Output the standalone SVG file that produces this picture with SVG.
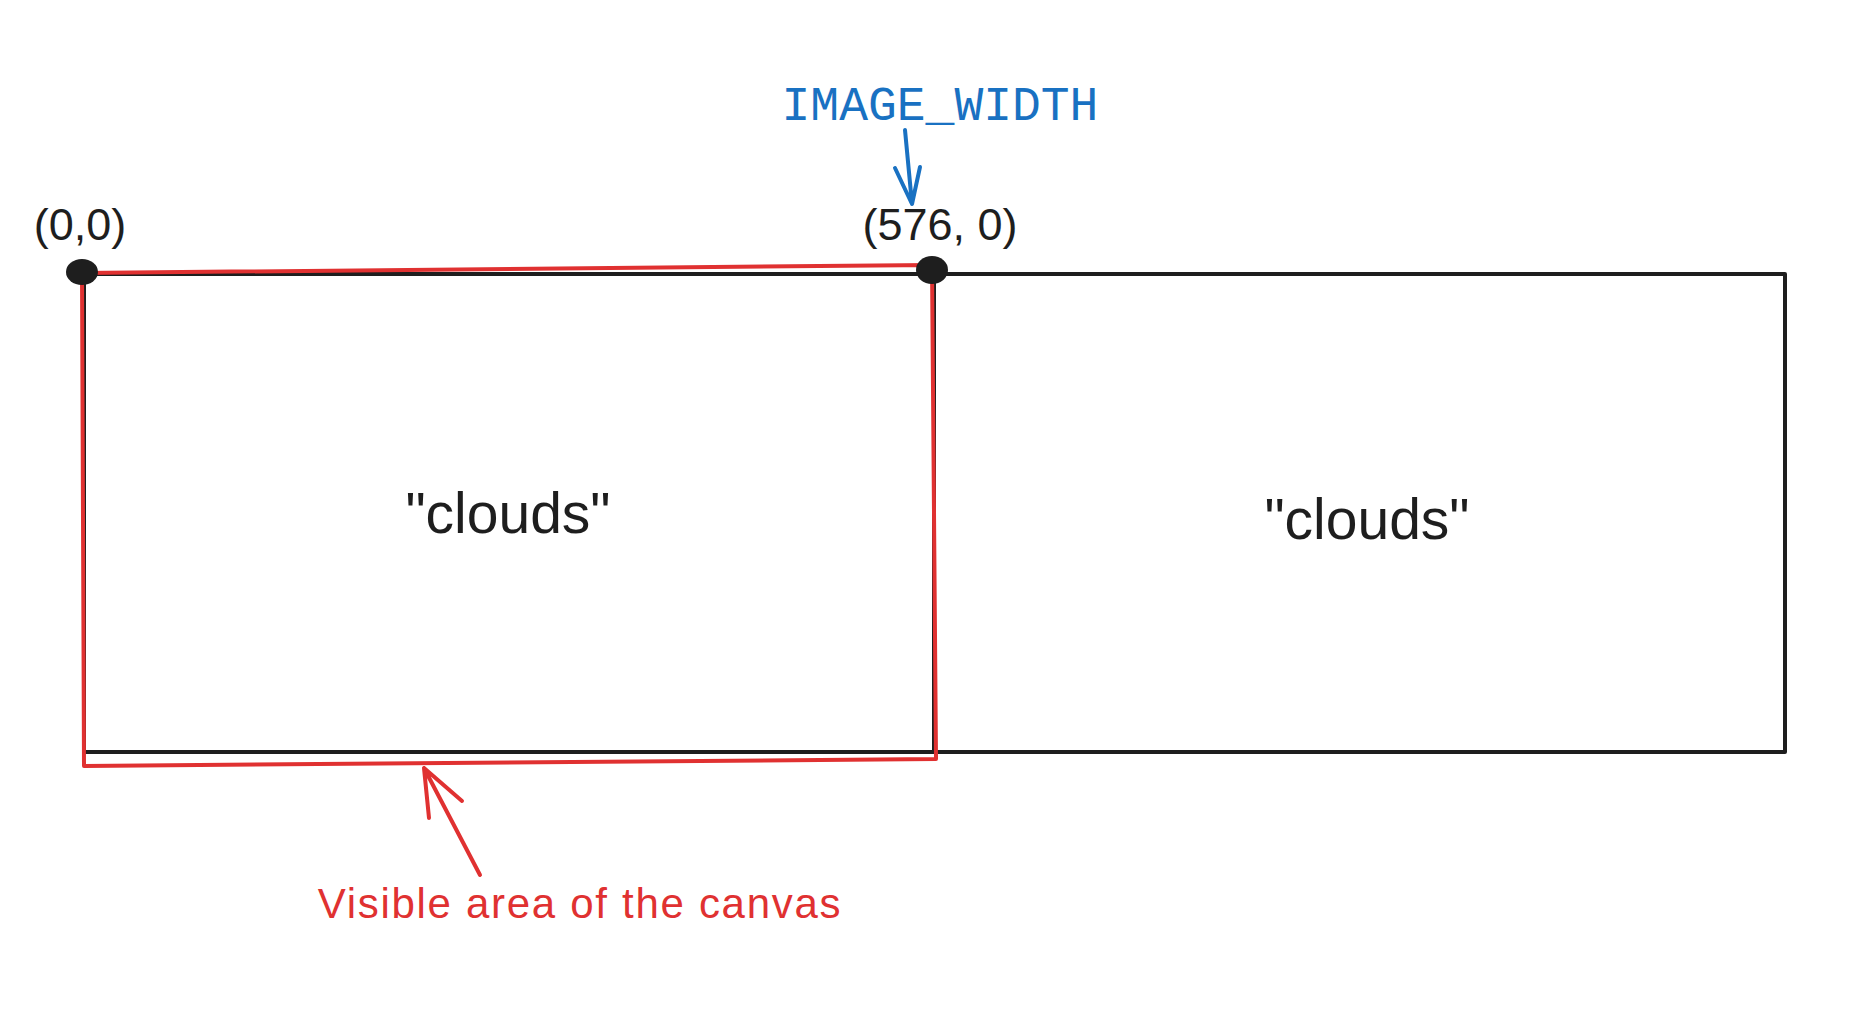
<svg xmlns="http://www.w3.org/2000/svg" width="1849" height="1009" viewBox="0 0 1849 1009">
  <style>
    .box { fill: none; stroke: #1e1e1e; stroke-width: 4; stroke-linejoin: round; }
    .red { fill: none; stroke: #e03131; stroke-width: 4; stroke-linecap: round; stroke-linejoin: round; }
    .blue { fill: none; stroke: #1971c2; stroke-width: 4; stroke-linecap: round; stroke-linejoin: round; }
    .lbl { font-family: "Liberation Sans", Arial, sans-serif; fill: #1e1e1e; text-anchor: middle; }
    .dot { fill: #1e1e1e; }
  </style>
  <rect width="1849" height="1009" fill="#ffffff"/>

  <g id="rect-left">
    <rect class="box" x="84" y="274" width="850" height="478"/>
    <text class="lbl" x="508" y="533" font-size="57">"clouds"</text>
  </g>

  <g id="rect-right">
    <rect class="box" x="934" y="274" width="851" height="478"/>
    <text class="lbl" x="1367" y="539" font-size="57">"clouds"</text>
  </g>

  <g id="visible-area">
    <path class="red" d="M82,273 L932,265 L936,759 L84,766 Z"/>
  </g>

  <g id="origin">
    <ellipse class="dot" cx="82" cy="272" rx="16" ry="13"/>
    <text class="lbl" x="80" y="240" font-size="45">(0,0)</text>
  </g>

  <g id="width-point">
    <ellipse class="dot" cx="932" cy="270" rx="16" ry="14"/>
    <text class="lbl" x="940" y="240" font-size="45">(576, 0)</text>
  </g>

  <g id="image-width-label">
    <text x="940" y="120" font-family="'Liberation Mono', 'Courier New', monospace" font-size="48" fill="#1971c2" text-anchor="middle">IMAGE_WIDTH</text>
  </g>

  <g id="canvas-label">
    <text x="580" y="918" font-family="'Liberation Sans', Arial, sans-serif" font-size="42" letter-spacing="1.7" fill="#e03131" text-anchor="middle">Visible area of the canvas</text>
  </g>

  <g id="connectors">
    <path class="blue" d="M905,130 L912,204 M895,168 L912,204 L920,167"/>
    <path class="red" d="M480,875 L424,768 M429,818 L424,768 L462,801"/>
  </g>
</svg>
